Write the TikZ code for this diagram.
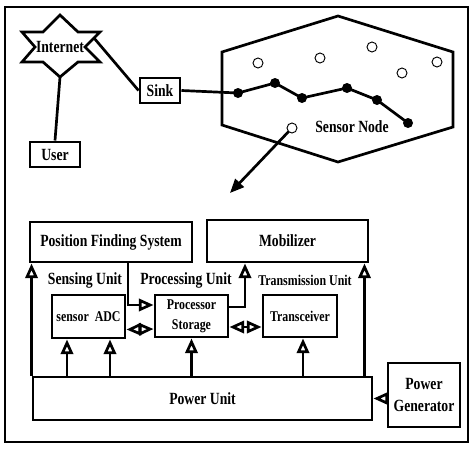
\documentclass[tikz,border=0pt]{standalone}
\usepackage{fontspec}
\setmainfont{Liberation Serif}[FakeStretch=0.8]
\usetikzlibrary{calc,positioning,arrows.meta}

\begin{document}
\begin{tikzpicture}[
	%	style def
    x=0.03cm, y=-0.03cm,
    important line/.style={line width=2.3pt},
    box/.style={draw, line width=2.5pt, inner sep=1pt, align=center,
        font=\fontsize{14.6pt}{15pt}\selectfont\bfseries},
    small box/.style={box, font=\fontsize{12.7pt}{14pt}\selectfont\bfseries},
    unit label/.style={font=\fontsize{14.6pt}{15pt}\selectfont\bfseries},
    open tip/.style={-{Triangle[open,length=12.5pt,width=10.5pt]}},
    open tips/.style={{Triangle[open,length=12.5pt,width=10.5pt]}-{Triangle[open,length=12.5pt,width=10.5pt]}},
    every node/.style={color=black}
    ]
    \useasboundingbox (0,0) rectangle (474,449);

    % outer frame
    \draw[important line] (5,7) rectangle (468,442);

    % internet star
    \draw[important line] (60,15) -- (43,32) -- (22,32) -- (35,47) -- (22,62) -- (43,62)
        -- (60,77) coordinate (inetS) -- (78,62) -- (100,62) -- (85,47) -- (100,32)
        -- (78,32) -- cycle;
    \coordinate (inetE) at (94,38);
    \node[unit label] (internet) at (60,47) {Internet};

    \node[box, minimum width=1.2cm, minimum height=0.75cm] (sink) at (160,90.5) {Sink};
    \node[box, minimum width=1.5cm, minimum height=0.75cm] (user) at (55,154.5) {User};

    \draw[important line] (inetE) -- (sink.west);
    \draw[important line] (inetS) -- (user.north);

    % sensor field
    \draw[important line] (338,16) -- (453,52) -- (453,127) -- (338,162) -- (222,125) -- (222,52) -- cycle;
    \node[unit label] (field) at (352,127) {Sensor Node};

    % route of nodes
    \draw[important line] (sink.east) -- (238,93) coordinate (d1) -- (275,83) coordinate (d2)
        -- (302,98) coordinate (d3) -- (347,88) coordinate (d4) -- (377,100) coordinate (d5)
        -- (408,123) coordinate (d6);
    \fill[black]
        (d1) circle (5) (d2) circle (5) (d3) circle (5)
        (d4) circle (5) (d5) circle (5) (d6) circle (5);

    % idle nodes
    \draw[thick]
        (258,63) circle (5) (320,58) circle (5) (372,47) circle (5)
        (402,73) circle (5) (437,62) circle (5);
    \draw[thick] (292,128) coordinate (c6) circle (5);
    \coordinate (zoom) at (230,193);
    \draw[important line, -{Triangle[length=12pt,width=10pt]}, shorten <=4pt] (c6) -- (zoom);

    % inside the sensor node
    \node[box, minimum width=4.86cm, minimum height=1.2cm] (pfs) at (111,242) {Position Finding System};
    \node[box, minimum width=4.83cm, minimum height=1.26cm] (mob) at (287.5,241) {Mobilizer};

    \node[unit label] (sensing) at (85,280) {Sensing Unit};
    \node[unit label] (processing) at (186,280) {Processing Unit};
    \node[unit label, font=\fontsize{12.7pt}{14pt}\selectfont\bfseries] (transmission) at (305,280) {Transmission Unit};

    \node[small box, minimum width=2.19cm, minimum height=1.29cm] (adc) at (88.5,316.5) {sensor\ \ ADC};
    \node[small box, minimum width=2.19cm, minimum height=1.26cm] (proc) at (191.5,316) {Processor\\[3pt]Storage};
    \node[small box, minimum width=2.22cm, minimum height=1.26cm] (trx) at (300,316) {Transceiver};

    \node[box, minimum width=10.17cm, minimum height=1.29cm] (power) at (202.5,398.5) {Power Unit};
    \node[box, minimum width=2.16cm, minimum height=1.92cm] (gen) at (424,395) {Power\\[4pt]Generator};

    % power lines
    \coordinate (pR) at ($(power.north east)+(-9,0)$);
    \coordinate (adcL) at ($(adc.south)+(-21.5,0)$);
    \coordinate (adcR) at ($(adc.south)+(21.5,0)$);
    \coordinate (trxS) at ($(trx.south)+(3,0)$);
    \draw[important line, open tip] (power.north west) -- (power.north west |- pfs.south);
    \draw[important line, open tip] (pR) -- (pR |- mob.south);
    \draw[important line, open tip] (adcL |- power.north) -- (adcL);
    \draw[important line, open tip] (adcR |- power.north) -- (adcR);
    \draw[important line, open tip] (proc.south |- power.north) -- (proc.south);
    \draw[important line, open tip] (trxS |- power.north) -- (trxS);
    \draw[important line, open tip] (gen.west |- power.east) -- (power.east);

    % data lines
    \coordinate (pfsS) at ($(pfs.south)+(17,0)$);
    \coordinate (procW1) at ($(proc.west)+(0,-11)$);
    \coordinate (procE1) at ($(proc.east)+(0,-9)$);
    \coordinate (mobS) at ($(mob.south)+(-42.5,0)$);
    \draw[important line, open tip] (pfsS) |- (procW1);
    \draw[important line, open tip] (procE1) -| (mobS);
    \draw[important line, open tips] ($(adc.east)+(0,13)$) -- ($(proc.west)+(0,13)$);
    \draw[important line, open tips] ($(proc.east)+(0,11)$) -- ($(trx.west)+(0,11)$);

\end{tikzpicture}
\end{document}
